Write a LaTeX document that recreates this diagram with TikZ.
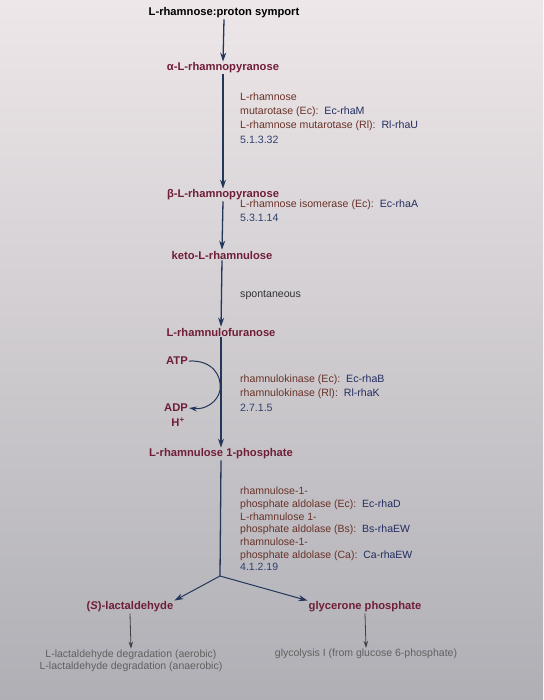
\documentclass[tikz,border=0pt]{standalone}
\usepackage{fontspec}
\setmainfont{Liberation Sans}
\usetikzlibrary{arrows.meta}
\definecolor{cpd}{RGB}{112,30,55}
\definecolor{enz}{RGB}{105,50,40}
\definecolor{gene}{RGB}{35,45,95}
\definecolor{ecn}{RGB}{45,65,110}
\definecolor{arr}{RGB}{35,55,90}
\definecolor{bgtop}{RGB}{238,231,233}
\definecolor{bgbot}{RGB}{175,175,181}
\tikzset{
	compound/.style={font=\bfseries\fontsize{11.2}{13}\selectfont, text=cpd, inner sep=1pt},
	enzymes/.style={font=\fontsize{10.6}{14.3}\selectfont, text=enz, align=left, anchor=west, inner sep=0pt},
	pathnote/.style={font=\fontsize{10.5}{12.5}\selectfont, text=black!62, align=center, inner sep=1pt},
	reaction/.style={draw=arr, line width=1.3pt, -{Stealth[length=9pt,width=6pt]}},
}
\newcommand{\gn}[1]{\textcolor{gene}{#1}}
\newcommand{\ec}[1]{\textcolor{ecn}{#1}}
\begin{document}
\begin{tikzpicture}[x=1pt,y=-1pt]
	\shade[top color=bgtop, bottom color=bgbot] (0,0) rectangle (543,700);
	\useasboundingbox (0,0) rectangle (543,700);
	%transport
	\node[compound, text=black] (symport) at (224,13) {L-rhamnose:proton symport};
	%alpha 
	\node[compound] (alpha) at (223,68) {α-L-rhamnopyranose};
	\draw[reaction] (symport.south) -- (alpha.north);
	%mutarotase 5.1.3.32
	\node[enzymes] (mutarot) at (240,118) {L-rhamnose\\mutarotase (Ec):\ \ \gn{Ec-rhaM}\\L-rhamnose mutarotase (Rl):\ \ \gn{Rl-rhaU}\\\ec{5.1.3.32}};
	%beta
	\node[compound] (beta) at (223,195) {β-L-rhamnopyranose};
	\draw[reaction] (alpha.south) -- (beta.north);
	%isomerase 5.3.1.14
	\node[enzymes] (isomer) at (240,211) {L-rhamnose isomerase (Ec):\ \ \gn{Ec-rhaA}\\\ec{5.3.1.14}};
	%keto
	\node[compound] (keto) at (222,255) {keto-L-rhamnulose};
	\draw[reaction] (beta.south) -- (keto.north);
	%spontaneous
	\node[enzymes, text=black!80] (spont) at (240,295) {spontaneous};
	%furanose
	\node[compound] (furan) at (221,332) {L-rhamnulofuranose};
	\draw[reaction] (keto.south) -- (furan.north);
	%kinase 2.7.1.5
	\node[enzymes] (kinase) at (240,393) {rhamnulokinase (Ec):\ \ \gn{Ec-rhaB}\\rhamnulokinase (Rl):\ \ \gn{Rl-rhaK}\\\ec{2.7.1.5}};
	\node[compound] (atp) at (177,361) {ATP};
	\node[compound] (adp) at (176,408) {ADP};
	\node[compound] (hplus) at (178,422) {H\textsuperscript{+}};
	%1-phosphate
	\node[compound] (rhap) at (221,454) {L-rhamnulose 1-phosphate};
	\draw[reaction] (furan.south) -- (rhap.north);
	\draw[draw=arr, line width=1pt, -{Stealth[length=8pt,width=5pt]}] (atp.east) .. controls (212,360) and (222,375) .. (220,390) .. controls (218,402) and (205,410) .. (adp.east);
	%aldolase 4.1.2.19
	\node[enzymes, font=\fontsize{10.5}{12.7}\selectfont] (aldol) at (240,529) {rhamnulose-1-\\phosphate aldolase (Ec):\ \ \gn{Ec-rhaD}\\L-rhamnulose 1-\\phosphate aldolase (Bs):\ \ \gn{Bs-rhaEW}\\rhamnulose-1-\\phosphate aldolase (Ca):\ \ \gn{Ca-rhaEW}\\\ec{4.1.2.19}};
	%split
	\coordinate (split) at (220,576);
	\node[compound] (lact) at (130,607) {(\textit{S})-lactaldehyde};
	\node[compound] (dhap) at (365,607) {glycerone phosphate};
	\draw[draw=arr, line width=1.3pt] (rhap.south) -- (split);
	\draw[reaction, line width=1pt] (split) -- (lact.north east);
	\draw[reaction, line width=1pt] (split) -- (dhap.north west);
	%pathway links
	\node[pathnote] (lactdeg) at (131,661) {L-lactaldehyde degradation (aerobic)\\L-lactaldehyde degradation (anaerobic)};
	\node[pathnote] (glycol) at (366,654) {glycolysis I (from glucose 6-phosphate)};
	\draw[draw=black!75, line width=0.8pt, -{Stealth[length=7pt,width=4.5pt]}] (lact.south) -- (lactdeg.north);
	\draw[draw=black!75, line width=0.8pt, -{Stealth[length=7pt,width=4.5pt]}] (dhap.south) -- (glycol.north);
\end{tikzpicture}
\end{document}
